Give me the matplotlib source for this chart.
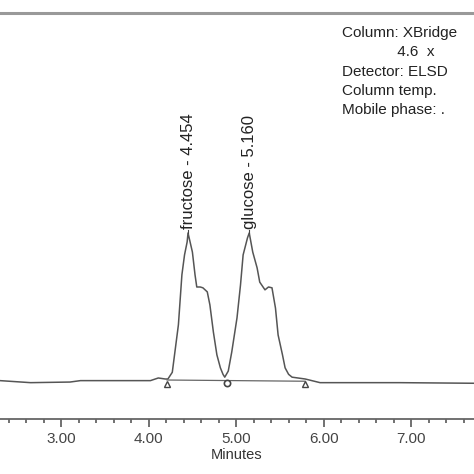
import numpy as np
import matplotlib
matplotlib.use('Agg')
import matplotlib.pyplot as plt
from matplotlib.ticker import MultipleLocator, FormatStrFormatter

plt.rcParams['font.family'] = ['Liberation Sans', 'DejaVu Sans']

### Trace (minutes, detector response)
time_min = [2.30, 2.65, 3.10, 3.22, 4.02, 4.11, 4.19,
            4.22, 4.27, 4.30, 4.34, 4.38, 4.41, 4.44, 4.45, 4.50, 4.53, 4.55, 4.59,
            4.62, 4.67, 4.70, 4.74, 4.78, 4.82, 4.85, 4.87,
            4.91, 4.95, 5.01, 5.05, 5.08, 5.13, 5.15, 5.19, 5.24, 5.27, 5.33, 5.37,
            5.41, 5.45, 5.48, 5.53, 5.56, 5.60, 5.64, 5.79,
            5.96, 6.87, 7.72]
response = [9.45, 8.95, 9.1, 9.45, 9.45, 10.1, 9.85,
            9.85, 11.5, 16.5, 23.2, 35.5, 40.4, 43.6, 45.8, 41.1, 35.5, 32.5, 32.5,
            32.3, 31.3, 28.1, 21.4, 15.8, 12.6, 11.0, 10.3,
            11.8, 16.5, 24.9, 33.0, 40.4, 44.6, 45.8, 41.1, 37.2, 33.7, 31.8, 32.5,
            32.3, 27.3, 20.7, 15.8, 12.6, 11.0, 10.3, 9.85,
            8.95, 8.95, 8.8]

### Integration baseline and markers
base_t = [4.21, 5.79]
base_y = [9.6, 9.3]
tri_t = [4.21, 5.79]
tri_y = [8.6, 8.5]
valley_t = [4.89]
valley_y = [8.9]

### Peak labels
peak_names = ['fructose - 4.454', 'glucose - 5.160']
peak_t = [4.45, 5.15]
peak_y = [45.8, 45.8]

info_lines = ['Column: XBridge',
              '             4.6  x',
              'Detector: ELSD',
              'Column temp.',
              'Mobile phase: .']

fig = plt.figure(figsize=(4.74, 4.74), dpi=100)
ax = fig.add_axes([0, 0.116, 1, 0.857])

ax.plot(time_min, response, color='#555555', lw=1.1)
ax.plot(base_t, base_y, color='#666666', lw=0.9)
ax.plot(tri_t, tri_y, ls='none', marker='^', ms=5, mfc='white', mec='#444444', mew=1)
ax.plot(valley_t, valley_y, ls='none', marker='o', ms=4.5, mfc='white', mec='#444444', mew=1.2)

for name, t, y in zip(peak_names, peak_t, peak_y):
    ax.plot([t, t], [y, y + 0.8], color='#444444', lw=0.8)
    ax.text(t, y + 0.9, name, rotation=90, ha='center', va='bottom',
            fontsize=12, color='#222222')

for i, line in enumerate(info_lines):
    ax.text(0.722, 0.95 - i * 0.0475, line, transform=ax.transAxes,
            fontsize=11, color='#222222', ha='left', va='center')

ax.set_xlim(2.30, 7.72)
ax.set_ylim(0, 100)

ax.spines['left'].set_visible(False)
ax.spines['right'].set_visible(False)
ax.spines['top'].set_color('#999999')
ax.spines['top'].set_linewidth(2.2)
ax.spines['bottom'].set_color('#666666')
ax.spines['bottom'].set_linewidth(1.3)

ax.xaxis.set_major_locator(MultipleLocator(1))
ax.xaxis.set_minor_locator(MultipleLocator(0.2))
ax.xaxis.set_major_formatter(FormatStrFormatter('%.2f'))
ax.tick_params(axis='x', which='major', direction='out', length=6, width=1.3,
               color='#666666', labelsize=11, labelcolor='#444444', pad=3)
ax.tick_params(axis='x', which='minor', direction='out', length=3, width=1.3,
               color='#666666')
ax.set_yticks([])
ax.set_xlabel('Minutes', fontsize=10.5, color='#333333', labelpad=2)

fig.savefig('out.png', dpi=100)
